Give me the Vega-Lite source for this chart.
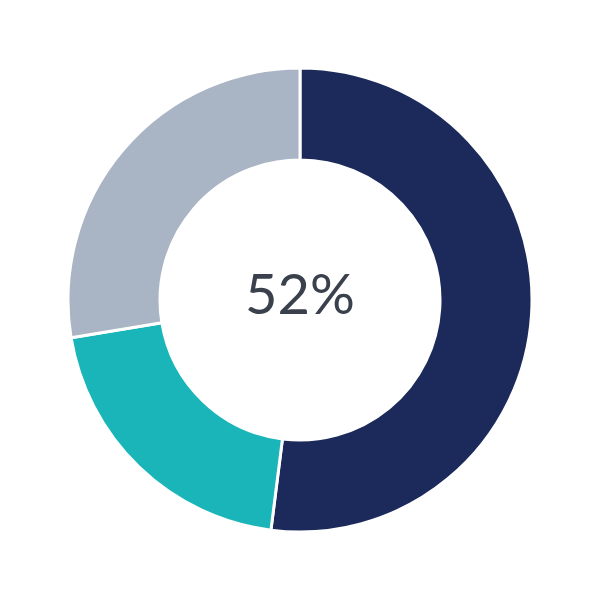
{
  "$schema": "https://vega.github.io/schema/vega-lite/v6.json",
  "width": 600,
  "height": 600,
  "autosize": {"type": "fit", "contains": "padding"},
  "padding": 0,
  "background": "white",
  "config": {"view": {"stroke": null}},
  "data": {
    "values": [
      {"segment": "A", "value": 52, "rank": 1},
      {"segment": "B", "value": 20.4, "rank": 2},
      {"segment": "C", "value": 27.6, "rank": 3}
    ]
  },
  "layer": [
    {
      "mark": {"type": "arc", "outerRadius": 232, "innerRadius": 140, "stroke": "white", "strokeWidth": 3},
      "encoding": {
        "theta": {"field": "value", "type": "quantitative", "stack": true},
        "order": {"field": "rank", "type": "quantitative"},
        "color": {
          "field": "segment",
          "type": "nominal",
          "scale": {"domain": ["A", "B", "C"], "range": ["#1b2a5a", "#1ab5b8", "#a9b4c4"]},
          "legend": null
        }
      }
    },
    {
      "data": {"values": [{"label": "52%"}]},
      "mark": {"type": "text", "font": "Lato", "fontWeight": 400, "fontSize": 56, "color": "#3a404c", "align": "center", "baseline": "middle", "dy": -3},
      "encoding": {
        "text": {"field": "label", "type": "nominal"}
      }
    }
  ]
}
